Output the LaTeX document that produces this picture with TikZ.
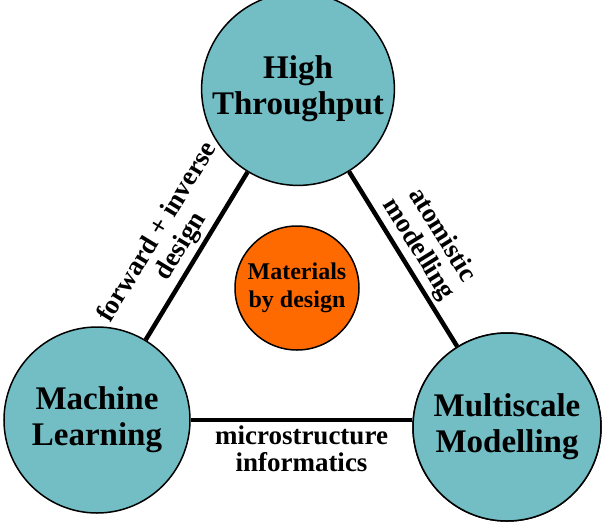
\documentclass[tikz,border=0pt]{standalone}
\usepackage{fontspec}
\setmainfont{Liberation Serif}
\usetikzlibrary{positioning}
\definecolor{tealfill}{HTML}{72BEC4}
\definecolor{orangefill}{HTML}{FF6A00}
\tikzset{
	topic/.style={circle, draw=black, line width=1.5pt, fill=tealfill, minimum size=#1,
		align=center, font=\fontsize{33}{36}\selectfont\bfseries},
	link/.style={line width=4.5pt, black},
	linklabel/.style={align=center, font=\fontsize{27}{27}\selectfont\bfseries}
}
\begin{document}
\begin{tikzpicture}[x=1pt, y=-1pt]
		
		% ---------------------
		% Proper size --- Bounding box
		\useasboundingbox (0,0) rectangle (603,523);
		
		% ---------------------
		% Topics
		\node[topic=180pt] (HT) at (298,89) {High\\Throughput};
		\node[topic=186pt] (ML) at (97,420) {Machine\\Learning};
		\node[topic=188pt] (MM) at (507,427) {Multiscale\\Modelling};
		\node[circle, draw=black, line width=1.5pt, fill=orangefill, minimum size=124pt,
			align=center, font=\fontsize{24}{28}\selectfont\bfseries] (MbD) at (297,288) {Materials\\by design};
		
		% ---------------------
		% Links
		\coordinate (MMw) at (MM.west |- ML.east);
		\draw[link] (ML) -- node[linklabel, sloped, above=0pt] {forward + inverse\\design} (HT);
		\draw[link] (HT) -- node[linklabel, sloped, above=0pt] {atomistic\\modelling} (MM);
		\draw[link] (ML.east) -- node[linklabel, below=0pt] {microstructure\\informatics} (MMw);
		\node[topic=188pt] at (MM) {Multiscale\\Modelling};
		
\end{tikzpicture}
\end{document}
